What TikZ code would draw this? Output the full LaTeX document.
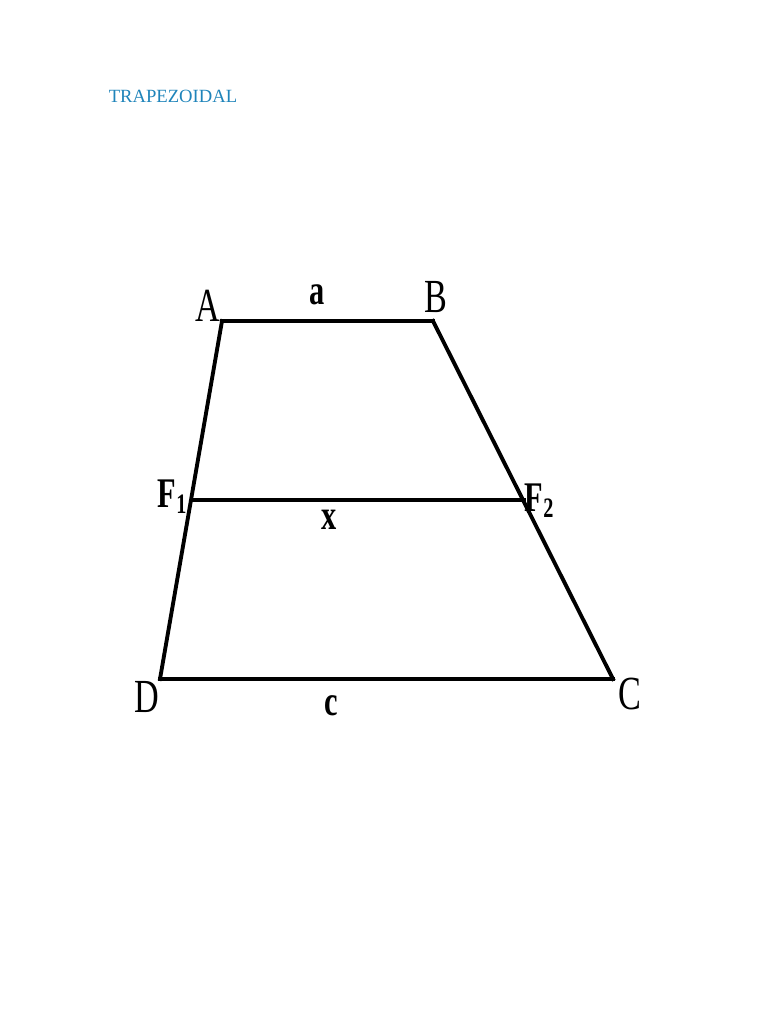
\documentclass[tikz,border=0pt]{standalone}
\usepackage{fontspec}
\setmainfont{Liberation Serif}
\newfontfamily\narrowfont[FakeStretch=0.72]{Liberation Serif}
\definecolor{titleblue}{RGB}{31,132,186}
\tikzset{
  heading/.style={text=titleblue, font=\fontsize{5.3}{6}\selectfont, inner sep=0pt},
  vertex/.style={font=\narrowfont\fontsize{13.5}{14}\selectfont, inner sep=0pt},
  side/.style={font=\narrowfont\bfseries\fontsize{12}{13}\selectfont, inner sep=0pt},
  edge/.style={line width=1.1pt, line cap=rect}
}
\begin{document}
\begin{tikzpicture}[x=0.01cm,y=-0.01cm]
  \useasboundingbox (0,0) rectangle (768,1024);
  \node[heading] (title) at (173,96) {TRAPEZOIDAL};
  \coordinate (A) at (222,321);
  \coordinate (B) at (433,321);
  \coordinate (C) at (613,679);
  \coordinate (D) at (160,679);
  \coordinate (F1) at (192,500);
  \coordinate (F2) at (524,500);
  \node[vertex] (lA) at (208,306) {A};
  \node[vertex] (lB) at (436,297) {B};
  \node[vertex] (lC) at (630,694) {C};
  \node[vertex] (lD) at (147,697) {D};
  \node[side] (la) at (317,295) {a};
  \node[side] (lx) at (329,520) {x};
  \node[side] (lc) at (331,706) {c};
  \node[side] (lF1) at (173,497) {F\textsubscript{1}};
  \node[side] (lF2) at (540,501) {F\textsubscript{2}};
  \begin{scope}[edge]
    \draw (A) to (B);
    \draw (B) to (C);
    \draw (C) to (D);
    \draw (D) to (A);
    \draw (F1) to (F2);
  \end{scope}
\end{tikzpicture}
\end{document}
